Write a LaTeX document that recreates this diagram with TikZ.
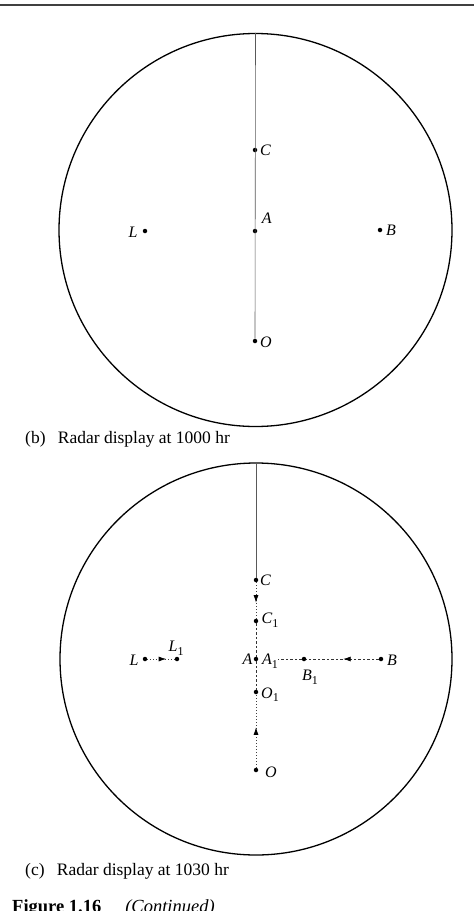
\documentclass[tikz,border=0pt]{standalone}
\usepackage{fontspec}
\setmainfont{Liberation Serif}
\usetikzlibrary{arrows.meta,decorations.markings}
\newcommand{\subone}{\raisebox{-3.7pt}{\upshape\fontsize{12}{12}\selectfont 1}}
\begin{document}
\begin{tikzpicture}[x=1pt,y=-1pt,
  dot/.style={circle,fill=black,inner sep=0pt,minimum size=4.5pt},
  lab/.style={font=\fontsize{16}{18}\selectfont\itshape,inner sep=0pt},
  captext/.style={font=\fontsize{17.5}{20}\selectfont,inner sep=0pt,anchor=base west},
  rim/.style={circle,draw,line width=1.3pt,inner sep=0pt},
  heading/.style={line width=0.6pt,black!65},
  dashline/.style={line width=0.6pt,black!80,dash pattern=on 2.5pt off 2pt},
  dotline/.style={line width=0.7pt,black!75,dash pattern=on 0.8pt off 2.2pt},
  tipmid/.style={postaction={decorate,decoration={markings,
      mark=at position #1 with {\arrow[black,solid]{Latex[length=7.5pt,width=5pt]}}}}}
]
\useasboundingbox (0,0) rectangle (474,911);
\draw[line width=1.2pt,black!75] (0,5) -- (474,5);

% ---------- (b) ----------
\node[rim,minimum size=393pt] (disk1) at (255.5,230) {};
\node[dot] (bC) at (255,150) {};
\node[dot] (bA) at (255,231) {};
\node[dot] (bL) at (145,231) {};
\node[dot] (bB) at (380,230) {};
\node[dot] (bO) at (255,341) {};
\draw[heading] (disk1.north) -- (bO);
\node[lab,anchor=base west] (tbC) at (260,155.3) {C};
\node[lab,anchor=base west] (tbA) at (261.7,223.3) {A};
\node[lab,anchor=base west] (tbL) at (128.3,237.3) {L};
\node[lab,anchor=base west] (tbB) at (386,235.3) {B};
\node[lab,anchor=base west] (tbO) at (260,347) {O};
\node[captext] (capb) at (25,443) {(b)\hspace{0.45em} Radar display at 1000 hr};

% ---------- (c) ----------
\node[rim,minimum size=392pt] (disk2) at (256,659) {};
\node[dot] (cC) at (256,580) {};
\node[dot] (cC1) at (256,621) {};
\node[dot] (cA) at (256,659) {};
\node[dot] (cL) at (145,659) {};
\node[dot] (cL1) at (177,659) {};
\node[dot] (cB1) at (304,659) {};
\node[dot] (cB) at (381,659) {};
\node[dot] (cO1) at (256,692) {};
\node[dot] (cO) at (256,770) {};
\node[lab,anchor=base west] (tcC) at (260,585.3) {C};
\node[lab,anchor=base west] (tcC1) at (261.4,623.3) {C\subone};
\node[lab,anchor=base west] (tcL) at (129.5,665.3) {L};
\node[lab,anchor=base west] (tcL1) at (168.5,651.3) {L\subone};
\node[lab,anchor=base east] (tcA) at (252.6,664.3) {A};
\node[lab,anchor=base west] (tcA1) at (261.8,664.3) {A\subone};
\node[lab,anchor=base west] (tcB1) at (301.8,680.3) {B\subone};
\node[lab,anchor=base west] (tcB) at (387,665.3) {B};
\node[lab,anchor=base west] (tcO1) at (261,698) {O\subone};
\node[lab,anchor=base west] (tcO) at (265,777) {O};
\draw[heading] (disk2.north) -- (cC);
\draw[dotline,tipmid=0.56] (cC) -- (cC1);
\draw[dashline] (cC1) -- (cA);
\draw[dashline] (cA) -- (cO1);
\draw[dotline,tipmid=0.55] (cO) -- (cO1);
\draw[dotline,tipmid=0.69] (cL) -- (cL1);
\draw[dashline,tipmid=0.49] (cB) -- (cB1);
\draw[dashline] (cB1) -- (tcA1.east |- cB1);
\node[captext] (capc) at (25,875) {(c)\hspace{0.45em} Radar display at 1030 hr};

\node[captext,font=\fontsize{18.5}{20}\selectfont] (fig) at (12,912) {\textbf{Figure 1.16}\hspace{1.3em}\textit{(Continued)}};
\end{tikzpicture}
\end{document}
